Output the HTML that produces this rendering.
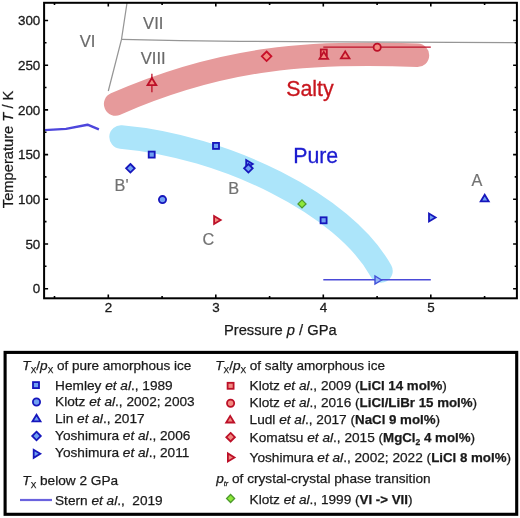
<!DOCTYPE html>
<html><head><meta charset="utf-8"><style>
html,body{margin:0;padding:0;background:#fff;}
svg{display:block;}
</style></head><body>
<svg width="520" height="518" viewBox="0 0 520 518">
<rect width="520" height="518" fill="#fff"/>
<path d="M115.6,104 C223.7,56.6 311.2,51.2 417.5,55.3" fill="none" stroke="#e69a9b" stroke-width="23.4" stroke-linecap="round"/>
<path d="M121,137 C224.2,146.1 343.9,203.9 381,271" fill="none" stroke="#ace5fa" stroke-width="23.4" stroke-linecap="round"/>
<polyline points="127,3 121.5,39.4 108.3,91" fill="none" stroke="#969696" stroke-width="1.25"/>
<polyline points="121.5,39.4 180,40.6 240,41.3 340,41.9 516,42.6" fill="none" stroke="#969696" stroke-width="1.25"/>
<polyline points="44.5,130.1 66,128.9 87.5,124.7 98.9,129.4" fill="none" stroke="#4d46dc" stroke-width="2.4" stroke-linejoin="round"/>
<line x1="323.3" y1="47.2" x2="430.8" y2="47.2" stroke="#bc1028" stroke-width="1.3"/>
<line x1="323.3" y1="279.7" x2="430.8" y2="279.7" stroke="#4a4ad8" stroke-width="1.4"/>
<line x1="151.9" y1="73.8" x2="151.9" y2="92.3" stroke="#bc1028" stroke-width="1.3"/>
<polygon points="151.90,78.00 156.30,85.20 147.50,85.20" fill="#f28a80" stroke="#bc1028" stroke-width="1.8" stroke-linejoin="miter"/>
<polygon points="266.60,51.50 271.40,56.30 266.60,61.10 261.80,56.30" fill="#f28a80" stroke="#c8102a" stroke-width="1.8"/>
<rect x="320.80" y="49.50" width="6.0" height="6.0" fill="#f28a80" stroke="#bc1028" stroke-width="1.8"/>
<polygon points="323.80,51.90 328.10,58.90 319.50,58.90" fill="#f28a80" stroke="#bc1028" stroke-width="1.8" stroke-linejoin="miter"/>
<polygon points="345.20,51.40 349.50,58.40 340.90,58.40" fill="#f28a80" stroke="#bc1028" stroke-width="1.8" stroke-linejoin="miter"/>
<circle cx="377.20" cy="47.20" r="3.6" fill="#f28a80" stroke="#bc1028" stroke-width="1.8"/>
<polygon points="220.70,220.00 214.10,216.00 214.10,224.00" fill="#f28a80" stroke="#bc1028" stroke-width="1.8"/>
<rect x="148.70" y="151.60" width="6.0" height="6.0" fill="#70a0f2" stroke="#1616bc" stroke-width="1.8"/>
<rect x="213.00" y="142.90" width="6.0" height="6.0" fill="#70a0f2" stroke="#1616bc" stroke-width="1.8"/>
<rect x="320.60" y="217.30" width="6.0" height="6.0" fill="#70a0f2" stroke="#1616bc" stroke-width="1.8"/>
<circle cx="162.50" cy="199.60" r="3.6" fill="#70a0f2" stroke="#1616bc" stroke-width="1.8"/>
<polygon points="484.70,194.80 488.70,201.40 480.70,201.40" fill="#70a0f2" stroke="#1616bc" stroke-width="1.8" stroke-linejoin="miter"/>
<polygon points="130.40,164.00 134.70,168.30 130.40,172.60 126.10,168.30" fill="#70a0f2" stroke="#1616bc" stroke-width="1.8"/>
<polygon points="252.80,164.00 246.20,160.00 246.20,168.00" fill="#70a0f2" stroke="#1616bc" stroke-width="1.8"/>
<polygon points="248.40,164.00 252.70,168.30 248.40,172.60 244.10,168.30" fill="#70a0f2" stroke="#1616bc" stroke-width="1.8"/>
<polygon points="435.60,217.50 429.00,213.50 429.00,221.50" fill="#70a0f2" stroke="#1616bc" stroke-width="1.8"/>
<polygon points="381.60,280.00 375.00,276.00 375.00,284.00" fill="#94b4f8" stroke="#3f4fd8" stroke-width="1.4"/>
<polygon points="302.00,199.90 306.00,203.90 302.00,207.90 298.00,203.90" fill="#8ee83a" stroke="#4c9a2c" stroke-width="1.3"/>
<g font-family="Liberation Sans, Arial, sans-serif" fill="#6a6a6a" font-size="16.6" stroke="#6a6a6a" stroke-width="0.2">
<text x="79.7" y="46.6">VI</text>
<text x="143.1" y="28.8">VII</text>
<text x="140.8" y="64.1">VIII</text>
</g>
<g font-family="Liberation Sans, Arial, sans-serif" fill="#727272" font-size="16.3" stroke="#727272" stroke-width="0.2">
<text x="114.6" y="191.3">B'</text>
<text x="228.2" y="194.4">B</text>
<text x="202.5" y="244.6">C</text>
<text x="471.6" y="185.6">A</text>
</g>
<text x="286.2" y="95.7" font-family="Liberation Sans, Arial, sans-serif" font-size="21.4" fill="#c8161e" stroke="#c8161e" stroke-width="0.3">Salty</text>
<text x="293.2" y="163.2" font-family="Liberation Sans, Arial, sans-serif" font-size="21.3" fill="#1c1cd0" stroke="#1c1cd0" stroke-width="0.3">Pure</text>
<rect x="44.1" y="2.8" width="472.8" height="295.5" fill="none" stroke="#000" stroke-width="2"/>
<path d="M108.3,298.3v-3.8M108.3,2.8v3.8M215.8,298.3v-3.8M215.8,2.8v3.8M323.3,298.3v-3.8M323.3,2.8v3.8M430.8,298.3v-3.8M430.8,2.8v3.8M54.5,298.3v-2.2M54.5,2.8v2.2M162.1,298.3v-2.2M162.1,2.8v2.2M269.6,298.3v-2.2M269.6,2.8v2.2M377.1,298.3v-2.2M377.1,2.8v2.2M484.6,298.3v-2.2M484.6,2.8v2.2M44.3,288.7h3.8M516.9,288.7h-3.8M44.3,244.0h3.8M516.9,244.0h-3.8M44.3,199.3h3.8M516.9,199.3h-3.8M44.3,154.6h3.8M516.9,154.6h-3.8M44.3,109.9h3.8M516.9,109.9h-3.8M44.3,65.2h3.8M516.9,65.2h-3.8M44.3,20.5h3.8M516.9,20.5h-3.8M44.3,266.3h2.2M516.9,266.3h-2.2M44.3,221.6h2.2M516.9,221.6h-2.2M44.3,176.9h2.2M516.9,176.9h-2.2M44.3,132.2h2.2M516.9,132.2h-2.2M44.3,87.5h2.2M516.9,87.5h-2.2M44.3,42.8h2.2M516.9,42.8h-2.2" stroke="#000" stroke-width="1.6" fill="none"/>
<g font-family="Liberation Sans, Arial, sans-serif" font-size="13.4" fill="#1a1a1a" stroke="#1a1a1a" stroke-width="0.3">
<text x="40.3" y="293.4" text-anchor="end">0</text>
<text x="40.3" y="248.7" text-anchor="end">50</text>
<text x="40.3" y="204.0" text-anchor="end">100</text>
<text x="40.3" y="159.3" text-anchor="end">150</text>
<text x="40.3" y="114.6" text-anchor="end">200</text>
<text x="40.3" y="69.9" text-anchor="end">250</text>
<text x="40.3" y="25.2" text-anchor="end">300</text>
<text x="108.6" y="311.7" text-anchor="middle">2</text>
<text x="216.1" y="311.7" text-anchor="middle">3</text>
<text x="323.6" y="311.7" text-anchor="middle">4</text>
<text x="431.1" y="311.7" text-anchor="middle">5</text>
</g>
<text x="224" y="334.8" font-family="Liberation Sans, Arial, sans-serif" font-size="14.7" fill="#1a1a1a" stroke="#1a1a1a" stroke-width="0.25">Pressure <tspan font-style="italic">p</tspan> / GPa</text>
<text transform="translate(13.2,208.2) rotate(-90)" font-family="Liberation Sans, Arial, sans-serif" font-size="14.7" fill="#1a1a1a" stroke="#1a1a1a" stroke-width="0.25">Temperature <tspan font-style="italic">T</tspan> / K</text>
<rect x="5.1" y="352.4" width="511.6" height="161.9" fill="none" stroke="#000" stroke-width="3.1"/>
<g font-family="Liberation Sans, Arial, sans-serif" font-size="13.65" fill="#1a1a1a" stroke="#1a1a1a" stroke-width="0.25">
<text x="22.3" y="370"><tspan font-style="italic">T</tspan><tspan font-size="8.4" dy="3.0">X</tspan><tspan dy="-3.0">/</tspan><tspan font-style="italic">p</tspan><tspan font-size="8.4" dy="3.0">X</tspan><tspan dy="-3.0" font-size="13.5"> of pure amorphous ice</tspan></text>
<text x="55.1" y="389.8">Hemley <tspan font-style="italic">et al</tspan>., 1989</text>
<text x="55.1" y="406.3">Klotz <tspan font-style="italic">et al</tspan>., 2002; 2003</text>
<text x="55.1" y="423.1">Lin <tspan font-style="italic">et al</tspan>., 2017</text>
<text x="55.1" y="440">Yoshimura <tspan font-style="italic">et al</tspan>., 2006</text>
<text x="55.1" y="456.7">Yoshimura <tspan font-style="italic">et al</tspan>., 2011</text>
<text x="22.3" y="485"><tspan font-style="italic">T</tspan><tspan font-size="8.4" dy="3.0">X</tspan><tspan dy="-3.0"> below 2 GPa</tspan></text>
<text x="55" y="504.5">Stern <tspan font-style="italic">et al</tspan>.,&#160; 2019</text>
<text x="215.2" y="370.4"><tspan font-style="italic">T</tspan><tspan font-size="8.4" dy="3.0">X</tspan><tspan dy="-3.0">/</tspan><tspan font-style="italic">p</tspan><tspan font-size="8.4" dy="3.0">X</tspan><tspan dy="-3.0" font-size="13.5"> of salty amorphous ice</tspan></text>
<text x="249.6" y="390.4">Klotz <tspan font-style="italic">et al</tspan>., 2009 (<tspan font-weight="bold" font-size="13.3">LiCl 14 mol%</tspan>)</text>
<text x="249.6" y="406.7">Klotz <tspan font-style="italic">et al</tspan>., 2016 (<tspan font-weight="bold" font-size="13.3">LiCl/LiBr 15 mol%</tspan>)</text>
<text x="249.6" y="424">Ludl <tspan font-style="italic">et al</tspan>., 2017 (<tspan font-weight="bold" font-size="13.3">NaCl 9 mol%</tspan>)</text>
<text x="249.6" y="442.1">Komatsu <tspan font-style="italic">et al</tspan>., 2015 (<tspan font-weight="bold" font-size="13.3">MgCl<tspan font-size="8.5" dy="3">2</tspan><tspan dy="-3"> 4 mol%</tspan></tspan>)</text>
<text x="249.6" y="461.5">Yoshimura <tspan font-style="italic">et al</tspan>., 2002; 2022 (<tspan font-weight="bold" font-size="13.3">LiCl 8 mol%</tspan>)</text>
<text x="216.2" y="483"><tspan font-style="italic">p</tspan><tspan font-size="7.2" dy="2.6" font-style="italic">tr</tspan><tspan dy="-2.6"> of crystal-crystal phase transition</tspan></text>
<text x="249.6" y="503.8">Klotz <tspan font-style="italic">et al</tspan>., 1999 (<tspan font-weight="bold" font-size="13.3">VI -&gt; VII</tspan>)</text>
</g>
<rect x="33.00" y="382.10" width="6.0" height="6.0" fill="#70a0f2" stroke="#1616bc" stroke-width="1.8"/>
<circle cx="36.50" cy="402.00" r="3.6" fill="#70a0f2" stroke="#1616bc" stroke-width="1.8"/>
<polygon points="36.50,414.80 40.50,421.40 32.50,421.40" fill="#70a0f2" stroke="#1616bc" stroke-width="1.8" stroke-linejoin="miter"/>
<polygon points="36.50,431.70 40.80,436.00 36.50,440.30 32.20,436.00" fill="#70a0f2" stroke="#1616bc" stroke-width="1.8"/>
<polygon points="40.30,453.80 33.70,449.80 33.70,457.80" fill="#70a0f2" stroke="#1616bc" stroke-width="1.8"/>
<line x1="20" y1="500" x2="52" y2="500" stroke="#6a62de" stroke-width="2.2"/>
<rect x="227.60" y="382.80" width="6.0" height="6.0" fill="#f28a80" stroke="#bc1028" stroke-width="1.8"/>
<circle cx="230.60" cy="403.30" r="3.6" fill="#f28a80" stroke="#bc1028" stroke-width="1.8"/>
<polygon points="230.20,415.90 234.20,422.50 226.20,422.50" fill="#f28a80" stroke="#bc1028" stroke-width="1.8" stroke-linejoin="miter"/>
<polygon points="230.60,432.90 234.90,437.20 230.60,441.50 226.30,437.20" fill="#f28a80" stroke="#bc1028" stroke-width="1.8"/>
<polygon points="234.50,457.40 227.90,453.40 227.90,461.40" fill="#f28a80" stroke="#bc1028" stroke-width="1.8"/>
<polygon points="230.60,494.50 234.60,498.50 230.60,502.50 226.60,498.50" fill="#8ee83a" stroke="#4c9a2c" stroke-width="1.3"/>
</svg>
</body></html>
